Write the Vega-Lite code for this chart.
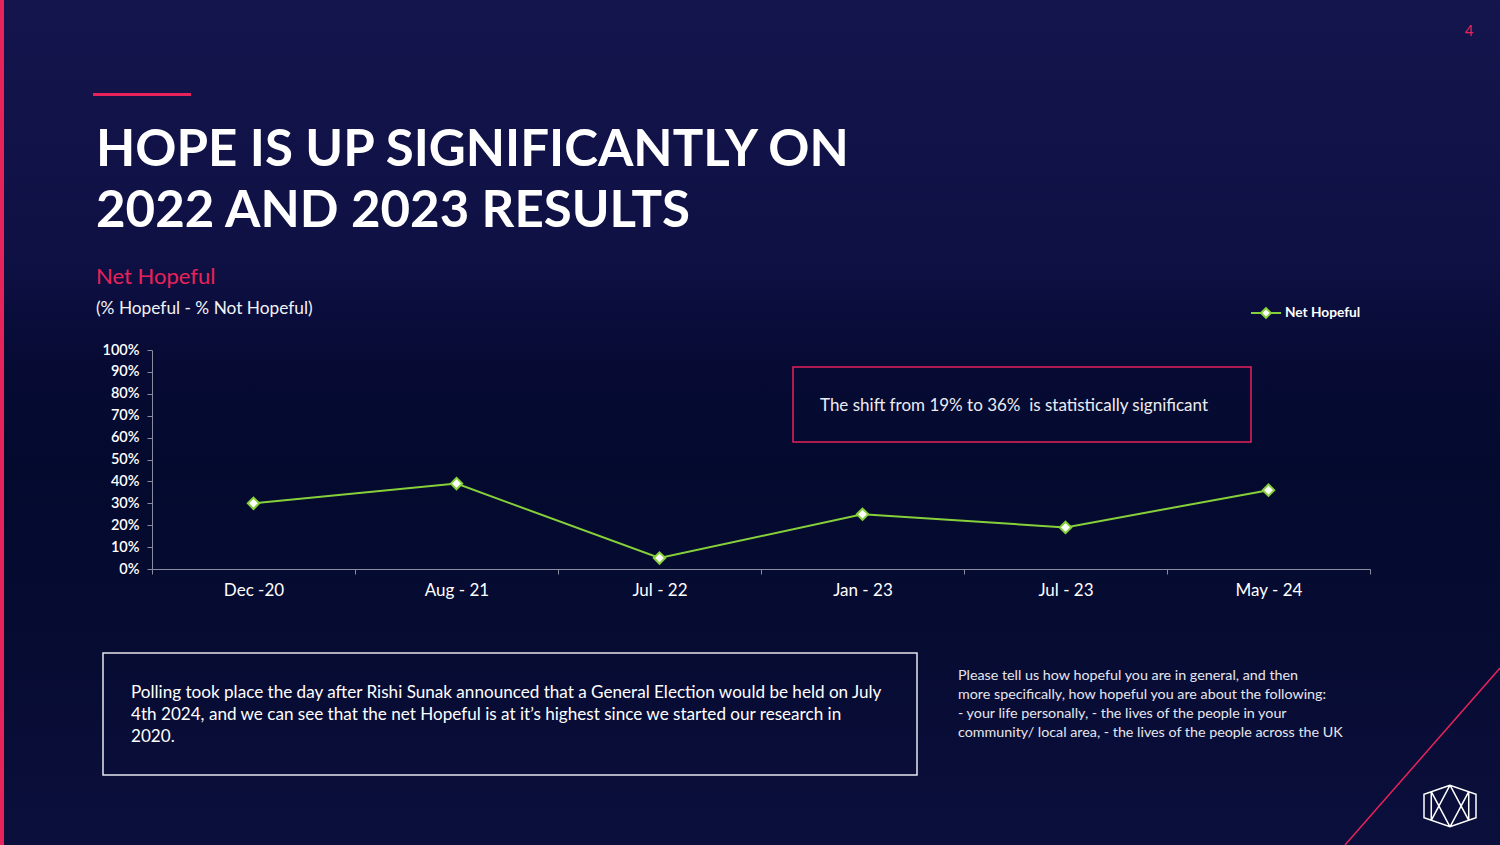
{
  "$schema": "https://vega.github.io/schema/vega-lite/v6.json",
  "width": 1218,
  "height": 219,
  "autosize": {"type": "none"},
  "padding": {"left": 152, "top": 350, "right": 130, "bottom": 276},
  "background": "#0a0d3b",
  "config": {"view": {"stroke": null}, "font": "Lato"},
  "datasets": {
    "hope": [
      {"wave": "Dec -20", "net": 0.30, "series": "Net Hopeful"},
      {"wave": "Aug - 21", "net": 0.39, "series": "Net Hopeful"},
      {"wave": "Jul - 22", "net": 0.05, "series": "Net Hopeful"},
      {"wave": "Jan - 23", "net": 0.25, "series": "Net Hopeful"},
      {"wave": "Jul - 23", "net": 0.19, "series": "Net Hopeful"},
      {"wave": "May - 24", "net": 0.36, "series": "Net Hopeful"}
    ],
    "one": [{}]
  },
  "layer": [
    {
      "data": {"name": "one"},
      "mark": {"type": "rect", "color": {"gradient": "linear", "x1": 0, "y1": 0, "x2": 0, "y2": 1, "stops": [
        {"offset": 0, "color": "#14154c"},
        {"offset": 0.3, "color": "#0f1145"},
        {"offset": 0.42, "color": "#070b35"},
        {"offset": 0.55, "color": "#040a2e"},
        {"offset": 0.72, "color": "#060b31"},
        {"offset": 1, "color": "#0b0f3c"}
      ]}},
      "encoding": {
        "x": {"datum": -0.76, "type": "quantitative", "scale": {"domain": [0, 6], "nice": false, "zero": false}, "axis": null},
        "x2": {"datum": 6.66},
        "y": {"datum": 2.62, "type": "quantitative", "scale": {"domain": [0, 1], "nice": false, "zero": false}, "axis": null},
        "y2": {"datum": -1.28}
      }
    },
    {
      "data": {"name": "one"},
      "mark": {"type": "rect", "color": "#e8225a"},
      "encoding": {
        "x": {"datum": -0.7488, "type": "quantitative", "scale": {"domain": [0, 6], "nice": false, "zero": false}, "axis": null},
        "x2": {"datum": -0.729},
        "y": {"datum": 2.62, "type": "quantitative", "scale": {"domain": [0, 1], "nice": false, "zero": false}, "axis": null},
        "y2": {"datum": -1.28}
      }
    },
    {
      "data": {"name": "one"},
      "mark": {"type": "rect", "color": "#e8225a"},
      "encoding": {
        "x": {"datum": -0.2906, "type": "quantitative", "scale": {"domain": [0, 6], "nice": false, "zero": false}, "axis": null},
        "x2": {"datum": 0.1921},
        "y": {"datum": 2.1735, "type": "quantitative", "scale": {"domain": [0, 1], "nice": false, "zero": false}, "axis": null},
        "y2": {"datum": 2.1598}
      }
    },
    {
      "data": {"name": "one"},
      "mark": {"type": "text", "align": "center", "baseline": "alphabetic", "fontSize": 15, "color": "#e8225a"},
      "encoding": {
        "x": {"datum": 6.4877, "type": "quantitative", "scale": {"domain": [0, 6], "nice": false, "zero": false}, "axis": null},
        "y": {"datum": 2.4338, "type": "quantitative", "scale": {"domain": [0, 1], "nice": false, "zero": false}, "axis": null},
        "text": {"value": "4"}
      }
    },
    {
      "data": {"name": "one"},
      "mark": {"type": "text", "align": "left", "baseline": "alphabetic", "fontSize": 51, "fontWeight": "bold", "lineHeight": 61, "color": "#ffffff"},
      "encoding": {
        "x": {"datum": -0.2759, "type": "quantitative", "scale": {"domain": [0, 6], "nice": false, "zero": false}, "axis": null},
        "y": {"datum": 1.8402, "type": "quantitative", "scale": {"domain": [0, 1], "nice": false, "zero": false}, "axis": null},
        "text": {"value": ["HOPE IS UP SIGNIFICANTLY ON", "2022 AND 2023 RESULTS"]}
      }
    },
    {
      "data": {"name": "one"},
      "mark": {"type": "text", "align": "left", "baseline": "alphabetic", "fontSize": 22, "color": "#e8225a"},
      "encoding": {
        "x": {"datum": -0.2759, "type": "quantitative", "scale": {"domain": [0, 6], "nice": false, "zero": false}, "axis": null},
        "y": {"datum": 1.3014, "type": "quantitative", "scale": {"domain": [0, 1], "nice": false, "zero": false}, "axis": null},
        "text": {"value": "Net Hopeful"}
      }
    },
    {
      "data": {"name": "one"},
      "mark": {"type": "text", "align": "left", "baseline": "alphabetic", "fontSize": 17.3, "color": "#f2f2f7"},
      "encoding": {
        "x": {"datum": -0.2759, "type": "quantitative", "scale": {"domain": [0, 6], "nice": false, "zero": false}, "axis": null},
        "y": {"datum": 1.1644, "type": "quantitative", "scale": {"domain": [0, 1], "nice": false, "zero": false}, "axis": null},
        "text": {"value": "(% Hopeful - % Not Hopeful)"}
      }
    },
    {
      "data": {"name": "one"},
      "mark": {"type": "rect", "filled": false, "stroke": "#e8225a", "strokeWidth": 1.5},
      "encoding": {
        "x": {"datum": 3.1576, "type": "quantitative", "scale": {"domain": [0, 6], "nice": false, "zero": false}, "axis": null},
        "x2": {"datum": 5.4138},
        "y": {"datum": 0.9224, "type": "quantitative", "scale": {"domain": [0, 1], "nice": false, "zero": false}, "axis": null},
        "y2": {"datum": 0.5799}
      }
    },
    {
      "data": {"name": "one"},
      "mark": {"type": "text", "align": "left", "baseline": "alphabetic", "fontSize": 17, "color": "#ececf2"},
      "encoding": {
        "x": {"datum": 3.2906, "type": "quantitative", "scale": {"domain": [0, 6], "nice": false, "zero": false}, "axis": null},
        "y": {"datum": 0.7215, "type": "quantitative", "scale": {"domain": [0, 1], "nice": false, "zero": false}, "axis": null},
        "text": {"value": "The shift from 19% to 36%\u00a0 is statistically significant"}
      }
    },
    {
      "data": {"name": "one"},
      "mark": {"type": "rect", "filled": false, "stroke": "#e6e6ee", "strokeWidth": 1.5},
      "encoding": {
        "x": {"datum": -0.2414, "type": "quantitative", "scale": {"domain": [0, 6], "nice": false, "zero": false}, "axis": null},
        "x2": {"datum": 3.7685},
        "y": {"datum": -0.3836, "type": "quantitative", "scale": {"domain": [0, 1], "nice": false, "zero": false}, "axis": null},
        "y2": {"datum": -0.9406}
      }
    },
    {
      "data": {"name": "one"},
      "mark": {"type": "text", "align": "left", "baseline": "alphabetic", "fontSize": 17.1, "lineHeight": 22, "color": "#ffffff"},
      "encoding": {
        "x": {"datum": -0.1034, "type": "quantitative", "scale": {"domain": [0, 6], "nice": false, "zero": false}, "axis": null},
        "y": {"datum": -0.589, "type": "quantitative", "scale": {"domain": [0, 1], "nice": false, "zero": false}, "axis": null},
        "text": {"value": ["Polling took place the day after Rishi Sunak announced that a General Election would be held on July", "4th 2024, and we can see that the net Hopeful is at it\u2019s highest since we started our research in", "2020."]}
      }
    },
    {
      "data": {"name": "one"},
      "mark": {"type": "text", "align": "left", "baseline": "alphabetic", "fontSize": 14.3, "lineHeight": 19, "color": "#e6e6ee"},
      "encoding": {
        "x": {"datum": 3.9704, "type": "quantitative", "scale": {"domain": [0, 6], "nice": false, "zero": false}, "axis": null},
        "y": {"datum": -0.5068, "type": "quantitative", "scale": {"domain": [0, 1], "nice": false, "zero": false}, "axis": null},
        "text": {"value": ["Please tell us how hopeful you are in general, and then", "more specifically, how hopeful you are about the following:", "- your life personally, - the lives of the people in your", "community/ local area, - the lives of the people across the UK"]}
      }
    },
    {
      "data": {"name": "one"},
      "mark": {"type": "rule", "color": "#e8225a", "strokeWidth": 1.5},
      "encoding": {
        "x": {"datum": 5.8768, "type": "quantitative", "scale": {"domain": [0, 6], "nice": false, "zero": false}, "axis": null},
        "x2": {"datum": 6.6404},
        "y": {"datum": -1.2603, "type": "quantitative", "scale": {"domain": [0, 1], "nice": false, "zero": false}, "axis": null},
        "y2": {"datum": -0.4521}
      }
    },
    {
      "data": {"name": "one"},
      "mark": {"type": "point", "filled": false, "stroke": "#ffffff", "strokeWidth": 1.5, "opacity": 1, "size": 2704,
        "shape": "M0,-0.8L-1,-0.45L-1,0.45L0,0.8L1,0.45L1,-0.45ZM-0.72,-0.55L-0.72,0.55M0.72,-0.55L0.72,0.55M-0.72,-0.55L0,0.8M0.72,-0.55L0,0.8M-0.72,0.55L0,-0.8M0.72,0.55L0,-0.8"},
      "encoding": {
        "x": {"datum": 6.3941, "type": "quantitative", "scale": {"domain": [0, 6], "nice": false, "zero": false}, "axis": null},
        "y": {"datum": -1.0822, "type": "quantitative", "scale": {"domain": [0, 1], "nice": false, "zero": false}, "axis": null}
      }
    },
    {
      "data": {"name": "hope"},
      "encoding": {
        "x": {"field": "wave", "type": "nominal", "sort": null, "scale": {"type": "band", "paddingInner": 0, "paddingOuter": 0},
          "axis": {"title": null, "zindex": 1, "labelAngle": 0, "labelColor": "#ffffff", "labelFontSize": 17, "labelFont": "Lato", "labelPadding": 8, "tickSize": 5, "tickColor": "#8a8ca0", "domainColor": "#8a8ca0", "tickBand": "extent", "grid": false}},
        "y": {"field": "net", "type": "quantitative", "scale": {"domain": [0, 1], "nice": false, "zero": false},
          "axis": {"title": null, "zindex": 1, "values": [0, 0.1, 0.2, 0.3, 0.4, 0.5, 0.6, 0.7, 0.8, 0.9, 1], "format": ".0%", "labelColor": "#ffffff", "labelFontSize": 14.5, "labelFontWeight": 600, "labelFont": "Lato", "labelPadding": 8, "tickSize": 5, "tickColor": "#8a8ca0", "domainColor": "#8a8ca0", "grid": false}}
      },
      "layer": [
        {
          "mark": {"type": "line", "strokeWidth": 2},
          "encoding": {
            "color": {"field": "series", "type": "nominal", "scale": {"domain": ["Net Hopeful"], "range": ["#86d13a"]},
              "legend": {"title": null, "orient": "none", "legendX": 1098, "legendY": -53, "symbolType": "M-1,0L-0.33,0M0.33,0L1,0M-0.33,0L0,-0.33L0.33,0L0,0.33Z", "symbolSize": 900, "symbolStrokeWidth": 2, "symbolFillColor": "#ffffff", "labelColor": "#ffffff", "labelFont": "Lato", "labelFontSize": 13.7, "labelFontWeight": "bold", "labelOffset": 3,
                "encode": {"symbols": {"update": {"fill": {"value": "#ffffff"}, "stroke": {"value": "#86d13a"}, "strokeWidth": {"value": 2}}}}}}
          }
        },
        {
          "mark": {"type": "point", "shape": "diamond", "size": 130, "filled": true, "fill": "#ffffff", "stroke": "#86d13a", "strokeWidth": 2, "opacity": 1}
        }
      ]
    }
  ],
  "resolve": {"scale": {"x": "independent", "y": "independent"}}
}
